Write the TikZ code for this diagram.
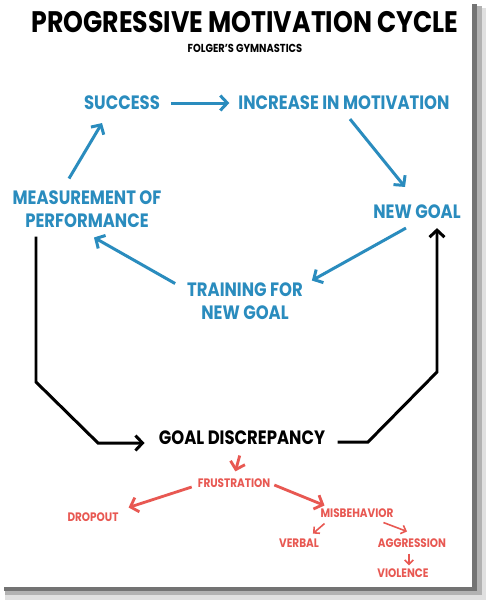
\documentclass[tikz,border=0pt]{standalone}
\usepackage{fontspec}
\setmainfont{Poppins}[FakeStretch=0.85]
\usetikzlibrary{arrows,arrows.meta,positioning,calc}
\definecolor{cycblue}{RGB}{42,140,190}
\definecolor{frusred}{RGB}{232,88,82}

\begin{document}
\begin{tikzpicture}[x=0.02cm,y=-0.02cm,
	>={Straight Barb[length=4pt,width=8.5pt]},
	every node/.style={inner sep=1pt, align=center},
	ttl/.style={font=\bfseries\fontsize{16.9}{19}\selectfont},
	subttl/.style={font=\bfseries\fontsize{6.6}{8}\selectfont},
	cyc/.style={text=cycblue, font=\bfseries\fontsize{11}{13}\selectfont},
	disc/.style={font=\bfseries\fontsize{11}{13}\selectfont},
	frus/.style={text=frusred, font=\bfseries\fontsize{7}{8}\selectfont},
	cycarr/.style={->, color=cycblue, line width=1.7pt},
	discarr/.style={draw=black, line width=1.7pt},
	frusarr/.style={->, color=frusred, line width=1.6pt},
	smallarr/.style={-{Straight Barb[length=2.5pt,width=5pt]}, color=frusred, line width=0.9pt}]
	\useasboundingbox (0,0) rectangle (486,603);
	\fill[black!12] (5,8) rectangle (486,600);
	\fill[black!30] (5,6) rectangle (482,595);
	\fill[black!55] (4,4) rectangle (477,591);
	\fill[white] (0,0) rectangle (472,587);

	\node[ttl] (title) at (245,22) {PROGRESSIVE MOTIVATION CYCLE};
	\node[subttl] (sub) at (245,48) {FOLGER'S GYMNASTICS};
	\node[cyc] (succ) at (122,103) {SUCCESS};
	\node[cyc] (incr) at (344,103) {INCREASE IN MOTIVATION};
	\node[cyc] (ngoal) at (417,212) {NEW GOAL};
	\node[cyc] (train) at (245,301) {TRAINING FOR\\NEW GOAL};
	\node[cyc] (meas) at (87,209) {MEASUREMENT OF\\PERFORMANCE};
	\node[disc] (gdisc) at (242,438) {GOAL DISCREPANCY};
	\node[frus] (frust) at (234,483) {FRUSTRATION};
	\node[frus] (drop) at (93,517) {DROPOUT};
	\node[frus] (misb) at (357,513) {MISBEHAVIOR};
	\node[frus] (verb) at (299,543) {VERBAL};
	\node[frus] (aggr) at (412,543) {AGGRESSION};
	\node[frus] (viol) at (403,573) {VIOLENCE};

	\coordinate (bl) at (36,382);
	\coordinate (bb) at (98,443);
	\coordinate (br) at (368,442);
	\coordinate (rt) at (437,372);

	\path[cycarr]
	(succ) edge[shorten <=5pt, shorten >=4pt] (incr)
	($(incr.south)+(6,7)$) edge ($(ngoal.north)+(-12,-16)$)
	($(ngoal.south)+(-11,7)$) edge ($(train.north east)+(7,0)$)
	($(train.north west)+(-10,3)$) edge ($(meas.south)+(7,8)$)
	($(meas.north)+(-18,-10)$) edge ($(succ.south)+(-20,11)$);
	\draw[discarr, ->, shorten <=4pt, shorten >=7pt] (meas.south -| bl) -- (bl) -- (bb) -- (gdisc.west |- bb);
	\draw[discarr, ->, shorten <=6pt, shorten >=4pt] (gdisc.east |- br) -- (br) -- (rt) -- (ngoal.south -| rt);
	\path[frusarr]
	(gdisc.south) edge[shorten <=5pt, shorten >=3pt] (frust.north)
	($(frust.west)+(-4,4)$) edge ($(drop.north east)+(8,-3)$)
	($(frust.east)+(2,2)$) edge ($(misb.north west)+(6,-1)$);
	\path[smallarr]
	($(misb.south west)+(6,4)$) edge ($(verb.north east)+(-8,-3)$)
	($(misb.south east)+(-12,3)$) edge ($(aggr.north)+(-5,-5)$)
	($(aggr.south)+(-3,4)$) edge ($(viol.north)+(6,-1)$);
\end{tikzpicture}
\end{document}
